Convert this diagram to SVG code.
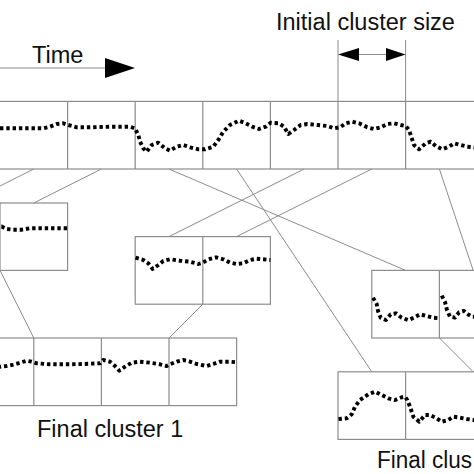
<svg xmlns="http://www.w3.org/2000/svg" width="474" height="474" viewBox="0 0 474 474">
<style>
.box{fill:none;stroke:#8c8c8c;stroke-width:1.2}
.div{stroke:#8c8c8c;stroke-width:1.2}
.con{stroke:#8c8c8c;stroke-width:1;fill:none}
.wave{fill:none;stroke:#000;stroke-width:3.9;stroke-dasharray:3.4 2.9;stroke-linejoin:round}
.lbl{font-family:"Liberation Sans",Arial,sans-serif;font-size:23.5px;fill:#111}
</style>
<rect width="474" height="474" fill="#fff"/>
<g id="time-arrow">
<line x1="0" y1="68" x2="106" y2="68" class="con"/>
<polygon points="105,58 135,68 105,78" fill="#000"/>
<text x="32" y="63" class="lbl">Time</text>
</g>
<g id="cluster-size">
<line x1="338" y1="40" x2="338" y2="101.4" class="con"/>
<line x1="405.6" y1="40" x2="405.6" y2="101.4" class="con"/>
<line x1="355" y1="54.5" x2="390" y2="54.5" class="con"/>
<polygon points="338,54.5 359,48 359,61" fill="#000"/>
<polygon points="405.6,54.5 386,48 386,61" fill="#000"/>
<text x="276" y="30" class="lbl">Initial cluster size</text>
</g>
<g id="connectors">
<line x1="33.8" y1="169" x2="-33.8" y2="203" class="con"/>
<line x1="101.4" y1="169" x2="33.8" y2="203" class="con"/>
<line x1="169" y1="169" x2="405.6" y2="270.4" class="con"/>
<line x1="236.6" y1="169" x2="371.8" y2="371.8" class="con"/>
<line x1="304.2" y1="169" x2="169" y2="236.6" class="con"/>
<line x1="371.8" y1="169" x2="236.6" y2="236.6" class="con"/>
<line x1="439.4" y1="169" x2="473.2" y2="270.4" class="con"/>
<line x1="0" y1="270.4" x2="33.8" y2="338" class="con"/>
<line x1="202.8" y1="304.2" x2="169" y2="338" class="con"/>
<line x1="439.4" y1="338" x2="473.2" y2="371.8" class="con"/>
</g>
<g id="timeline">
<rect x="-10" y="101.4" width="500" height="67.6" class="box"/>
<line x1="67.6" y1="101.4" x2="67.6" y2="169" class="div"/>
<line x1="135.2" y1="101.4" x2="135.2" y2="169" class="div"/>
<line x1="202.8" y1="101.4" x2="202.8" y2="169" class="div"/>
<line x1="270.4" y1="101.4" x2="270.4" y2="169" class="div"/>
<line x1="338" y1="101.4" x2="338" y2="169" class="div"/>
<line x1="405.6" y1="101.4" x2="405.6" y2="169" class="div"/>
<path class="wave" d="M0,128.3 L43,128.3 L50,126.7 L56.7,124 L63.3,123.3 L68.3,125 L76.7,127.3 L90,127.3 L110,126.7 L130,126.7 L135,128.3 L138.3,135 L140,141.7 L143.3,148.3 L146.7,151.7 L151.7,145 L158.3,142.7 L165,148.3 L170,150.7 L176.7,146.7 L183.3,145 L190,147.3 L198.3,149.3 L205,149.3 L213.3,146.7 L218.3,140 L223.3,131.7 L230,125 L239,120.7 L245.7,123.3 L252.3,126.7 L259,129 L265.7,126.7 L270.7,122.7 L279,123.3 L284,126.7 L288.3,134 L294,130 L300.7,125 L307.3,124 L317.3,125 L327.3,126 L334,128.3 L340,127.3 L345.7,123.3 L352.3,121.7 L359,123.3 L367.3,127.3 L374,129 L380.7,127.3 L387.3,124 L394,123.3 L400.7,125 L405.7,126 L409,130 L411.3,136.7 L414,145 L419,149.3 L425.7,143.3 L430.7,141.7 L435.7,146 L442.3,149.3 L449,146.7 L454,143.3 L460.7,145 L467.3,146.7 L474,147.3 L480,147"/>
</g>
<g id="cluster-left">
<rect x="-67.6" y="203" width="135.2" height="67.4" class="box"/>
<line x1="0" y1="203" x2="0" y2="270.4" class="div"/>
<path class="wave" d="M-30,229 L-10,227 L1.7,226.5 L6.7,229 L13.3,229.7 L21.7,229.7 L30,228.3 L67.6,228.3"/>
</g>
<g id="cluster-middle">
<rect x="135.2" y="236.6" width="135.2" height="67.6" class="box"/>
<line x1="202.8" y1="236.6" x2="202.8" y2="304.2" class="div"/>
<path class="wave" d="M135.5,257.7 L143.3,260 L148.3,263.3 L152.7,269 L158.3,265 L163.3,261 L170,259.3 L180,260.7 L190,261.7 L198.3,264 L202.7,262.7 L208.3,259.3 L216,257.3 L223.3,259.3 L230,262.7 L236.7,264 L243.3,263.3 L250,260 L256.7,258.7 L270.4,260"/>
</g>
<g id="cluster-right">
<rect x="371.8" y="270.4" width="135.2" height="67.6" class="box"/>
<line x1="439.4" y1="270.4" x2="439.4" y2="338" class="div"/>
<path class="wave" d="M373,297.7 L376.7,304 L378,311 L380.7,317.7 L386,320 L390.7,314.3 L396,313.3 L401.7,317.7 L408,320 L414,317.7 L420,314.3 L426.7,316 L433,317.7 L439.4,318.3"/>
<path class="wave" d="M441.7,295.7 L445,302 L447,310 L450,316.7 L455,317.7 L459,312.3 L464,311 L468,314.3 L471.7,316.7 L480,317"/>
</g>
<g id="final-cluster-1">
<rect x="-33.8" y="338" width="270.4" height="67.6" class="box"/>
<line x1="33.8" y1="338" x2="33.8" y2="405.6" class="div"/>
<line x1="101.4" y1="338" x2="101.4" y2="405.6" class="div"/>
<line x1="169" y1="338" x2="169" y2="405.6" class="div"/>
<path class="wave" d="M-33.8,367 L0,366.7 L6.7,366 L13.3,364.7 L20,362.7 L26.7,360.7 L31.7,361.7 L36.7,363.3 L50,364.3 L66.7,364.3 L83.3,364 L100,363.3 L103.3,360 L110,361.7 L115,366 L119.3,370.7 L125,366.7 L131.7,362.7 L140,361.7 L150,362.7 L160,364.3 L166.7,366 L170,364.3 L176.7,361.7 L183.3,360 L190,361.7 L196.7,364 L206.7,366 L213.3,364 L220,361.7 L230,361.7 L236.6,362.3"/>
<text x="37" y="437" class="lbl">Final cluster 1</text>
</g>
<g id="final-cluster-2">
<rect x="338" y="371.8" width="270.4" height="67.6" class="box"/>
<line x1="405.6" y1="371.8" x2="405.6" y2="439.4" class="div"/>
<path class="wave" d="M338.5,419 L346.7,418.3 L351.7,414.3 L355,406.7 L360,400 L368.3,394.3 L375,391.7 L381.7,395 L388.3,398.3 L395,400 L401.7,397.3 L405,396.7 L407.3,400 L410,406.7 L413.3,416.7 L419.3,421.7 L425,415 L430,415 L436.7,418.3 L441.7,421.7 L448.3,420 L453.3,416.7 L460,417.7 L466.7,419 L474,420 L480,420"/>
<text x="377" y="468" class="lbl" textLength="95" lengthAdjust="spacingAndGlyphs">Final clus</text>
</g>
</svg>
